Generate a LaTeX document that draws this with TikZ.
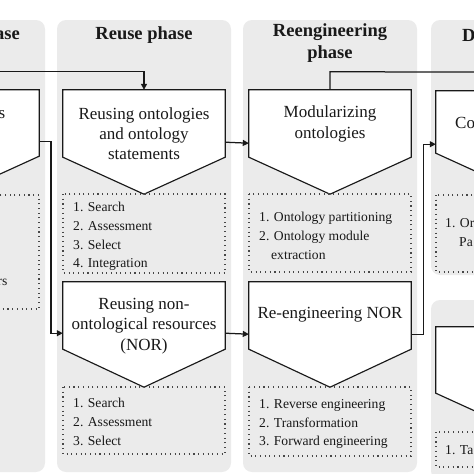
\documentclass[tikz,border=0pt]{standalone}
\usepackage{fontspec}
\setmainfont{Liberation Serif}
\usetikzlibrary{arrows.meta,calc}
\definecolor{panelgray}{RGB}{235,235,235}
\definecolor{ink}{RGB}{25,25,25}
\newcommand\pentbox[2]{\draw[pentline] (#1.north west) -- (#1.north east) -- (#1.south east) -- ([yshift=-#2pt]#1.south) -- (#1.south west) -- cycle;}
\tikzset{
  panel/.style={fill=panelgray, draw=none, rounded corners=9pt},
  rectn/.style={inner sep=0pt, minimum width=162pt, draw=none},
  pentline/.style={draw=ink, fill=white, line width=1.15pt, line join=miter},
  dotbox/.style={draw=ink!80, line width=1.15pt, dash pattern=on 1.1pt off 3.6pt},
  ptitle/.style={font=\fontsize{18.5}{22}\selectfont\bfseries, text=ink, inner sep=0pt, align=center},
  ptext/.style={font=\fontsize{17}{20.3}\selectfont, text=ink, inner sep=0pt, align=center},
  ltext/.style={font=\fontsize{13.6}{18.6}\selectfont, text=ink, inner sep=0pt, align=left},
  conn/.style={draw=ink, line width=1.25pt},
  arr/.style={conn, -{Triangle[length=6pt,width=6pt]}}
}
\begin{document}
\begin{tikzpicture}[x=1pt,y=-1pt]
\useasboundingbox (0,0) rectangle (474,474);
\clip (0,0) rectangle (474,474);
% panels
\fill[panel] (-129,20) rectangle (45,472);
\fill[panel] (57,20) rectangle (231,472);
\fill[panel] (243,20) rectangle (417,472);
\fill[panel] (431,20) rectangle (605,275);
\fill[panel] (431,300) rectangle (605,480);
% titles
\node[ptitle, anchor=east] (t0) at (20,35) {ase};
\node[ptitle] (t1) at (144,35) {Reuse phase};
\node[ptitle] (t2) at (330,43) {Reengineering\\phase};
\node[ptitle, anchor=west] (t3) at (462,35) {D};
% rectangle parts of the pentagons
\node[rectn, minimum height=66pt] (lb) at (-42,123) {};
\node[rectn, minimum height=67pt] (ro) at (144,123.5) {};
\node[rectn, minimum height=67pt] (nor) at (144,315.5) {};
\node[rectn, minimum height=67pt] (mo) at (330,123.5) {};
\node[rectn, minimum height=67pt] (ren) at (330,315.5) {};
\node[rectn, minimum height=62pt] (co) at (517,122) {};
\node[rectn, minimum height=66pt] (lo) at (517,360) {};
% connectors
\draw[arr] (lb.north) -- ++(0,-18) -| (ro.north);
\draw[conn] (mo.north) -- ++(0,-18) -- (480,72) coordinate (offr);
\draw[arr] ([yshift=15pt]lb.south east) -- ++(11.7,0) |- ([yshift=16pt]nor.south west);
\draw[arr] ([yshift=15pt]ro.south east) -- ([yshift=14pt]mo.south west);
\draw[arr] ([yshift=16pt]nor.south east) -- ([yshift=15pt]ren.south west);
\draw[arr] ([yshift=15pt]ren.south east) -- ++(12.5,0) |- ([yshift=9pt]co.south west);
% pentagons
\pentbox{lb}{37}
\pentbox{ro}{37}
\pentbox{nor}{38}
\pentbox{mo}{37}
\pentbox{ren}{38}
\pentbox{co}{37}
\pentbox{lo}{37}
% pentagon texts
\node[ptext, anchor=east] (lbt) at (5.5,115) {s};
\node[ptext] (rot) at (144,133.5) {Reusing ontologies\\and ontology\\statements};
\node[ptext] (nort) at (144,326) {Reusing non-\\ontological resources\\(NOR)};
\node[ptext] (mot) at (330,124) {Modularizing\\ontologies};
\node[ptext] (rent) at (330,315) {Re-engineering NOR};
\node[ptext, anchor=west] (cot) at (455,123) {Co};
% dotted boxes
\draw[dotbox] (-123,195) rectangle (39,309);
\draw[dotbox] (63,194) rectangle (225,273);
\draw[dotbox] (63,387) rectangle (225,454);
\draw[dotbox] (249,194) rectangle (411,272);
\draw[dotbox] (249,387) rectangle (411,456);
\draw[dotbox] (436,195) rectangle (598,272);
\draw[dotbox] (436,432) rectangle (598,467);
% lists
\node[ltext, anchor=east] (l0) at (7.5,282) {rs};
\node[ltext, anchor=north west] (l1) at (73,202.3) {1. Search\\2. Assessment\\3. Select\\4. Integration};
\node[ltext, anchor=north west] (l2) at (73,398.3) {1. Search\\2. Assessment\\3. Select};
\node[ltext, anchor=north west] (l3) at (259,212.3) {1. Ontology partitioning\\2. Ontology module\\\hspace*{12pt}extraction};
\node[ltext, anchor=north west] (l4) at (259,399.3) {1. Reverse engineering\\2. Transformation\\3. Forward engineering};
\node[ltext, anchor=north west] (l5) at (445,218.3) {1. Or\\\hspace*{14pt}Pa};
\node[ltext, anchor=north west] (l6) at (445,445.3) {1. Ta};
\end{tikzpicture}
\end{document}
